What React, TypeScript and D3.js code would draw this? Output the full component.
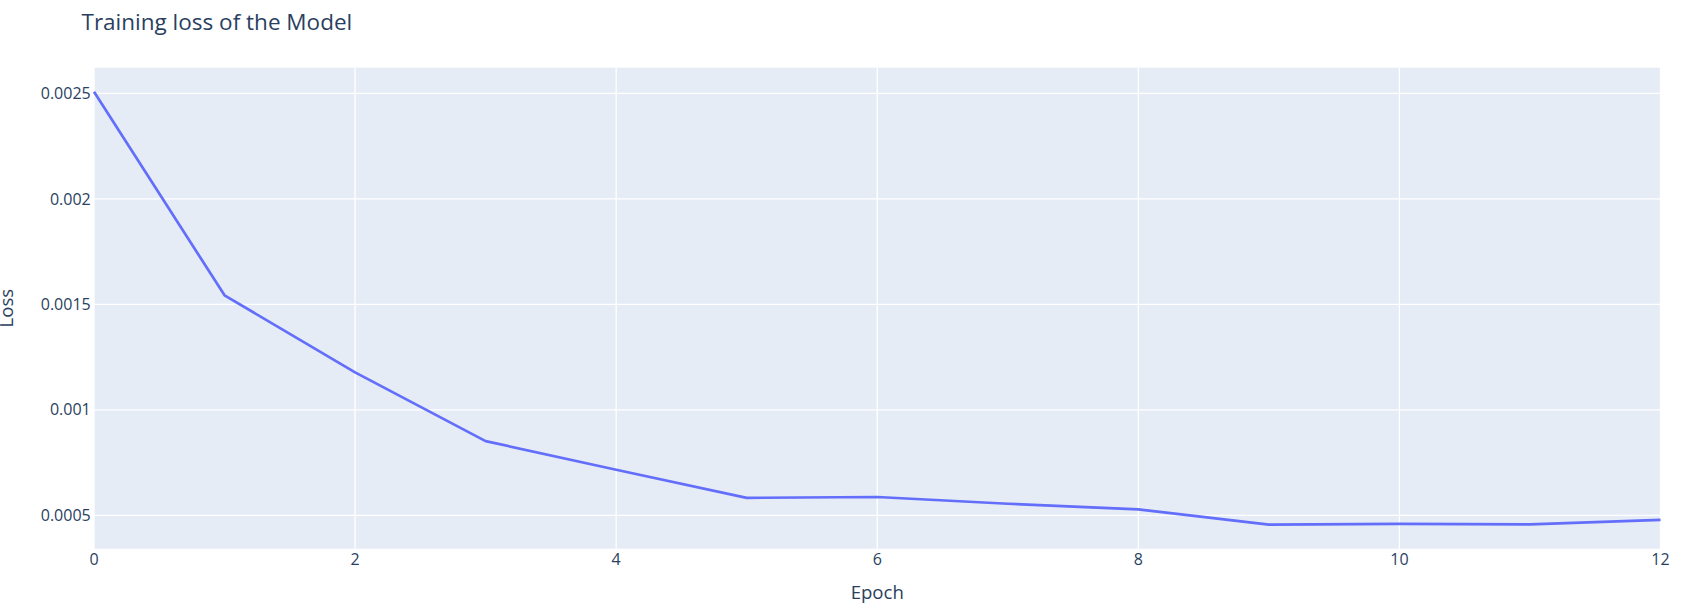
import * as d3 from "d3";
import { useEffect } from "react";

// training loss per epoch
const epochs = [0, 1, 2, 3, 4, 5, 6, 7, 8, 9, 10, 11, 12];
const loss = [
  0.002508, 0.001543, 0.001178, 0.000852, 0.000716, 0.000583, 0.000587,
  0.000555, 0.000528, 0.000456, 0.00046, 0.000457, 0.000479,
];
const xTicks = [0, 2, 4, 6, 8, 10, 12];
const yTicks = [0.0005, 0.001, 0.0015, 0.002, 0.0025];
const yTickLabels = ["0.0005", "0.001", "0.0015", "0.002", "0.0025"];

const width = 1706;
const height = 611;
const margin = { top: 67.7, right: 45.5, bottom: 62.3, left: 94 };
const font = '"Open Sans", verdana, arial, sans-serif';
const textColor = "#2a3f5f";

export default function App() {
  useEffect(() => {
    document.body.style.margin = "0";
  }, []);

  const innerH = height - margin.top - margin.bottom;
  const x = d3
    .scaleLinear()
    .domain(d3.extent(epochs) as [number, number])
    .range([margin.left, width - margin.right]);

  // plotly-like autorange: 5% pixel padding each side
  const [lo, hi] = d3.extent(loss) as [number, number];
  const pad = 0.05 * innerH;
  const extra = ((hi - lo) * pad) / (innerH - 2 * pad);
  const y = d3
    .scaleLinear()
    .domain([lo - extra, hi + extra])
    .range([height - margin.bottom, margin.top]);

  const line = d3
    .line<number>()
    .x((_, i) => x(epochs[i]))
    .y((d) => y(d));

  const plotBottom = height - margin.bottom;
  const cx = (margin.left + width - margin.right) / 2;
  const cy = (margin.top + plotBottom) / 2;

  return (
    <svg width={width} height={height} style={{ display: "block", background: "#fff" }}>
      <rect
        x={margin.left}
        y={margin.top}
        width={width - margin.left - margin.right}
        height={innerH}
        fill="#E5ECF6"
      />
      {xTicks.map((t) => (
        <line key={"gx" + t} x1={x(t)} x2={x(t)} y1={margin.top} y2={plotBottom} stroke="#fff" strokeWidth={1.33} />
      ))}
      {yTicks.map((t) => (
        <line key={"gy" + t} x1={margin.left} x2={width - margin.right} y1={y(t)} y2={y(t)} stroke="#fff" strokeWidth={1.33} />
      ))}
      <path d={line(loss) ?? ""} fill="none" stroke="#636efa" strokeWidth={2.7} strokeLinejoin="round" />

      {xTicks.map((t) => (
        <text key={"tx" + t} x={x(t)} y={plotBottom + 16.3} textAnchor="middle" fontFamily={font} fontSize={16} fill={textColor}>
          {t}
        </text>
      ))}
      {yTicks.map((t, i) => (
        <text key={"ty" + t} x={margin.left - 3.3} y={y(t)} dy="0.35em" textAnchor="end" fontFamily={font} fontSize={16} fill={textColor}>
          {yTickLabels[i]}
        </text>
      ))}

      <text x={81.5} y={30} fontFamily={font} fontSize={22.5} fill={textColor}>
        Training loss of the Model
      </text>
      <text x={cx} y={599} textAnchor="middle" fontFamily={font} fontSize={18.6} fill={textColor}>
        Epoch
      </text>
      <text transform={`translate(12.5,${cy}) rotate(-90)`} textAnchor="middle" fontFamily={font} fontSize={18.6} fill={textColor}>
        Loss
      </text>
    </svg>
  );
}
